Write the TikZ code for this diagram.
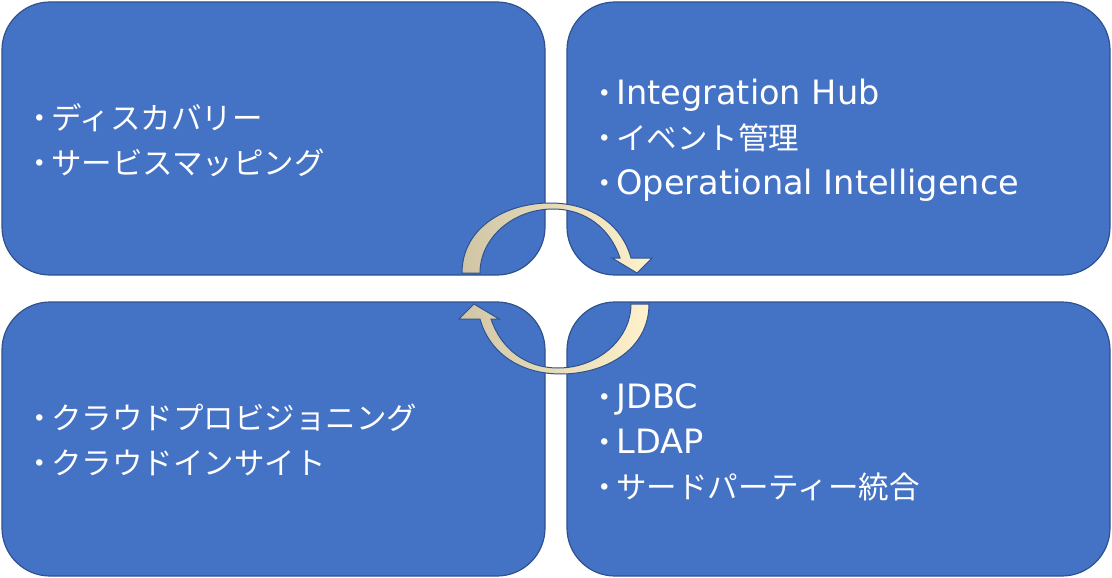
\documentclass[tikz,border=0pt]{standalone}
\usepackage{fontspec}
\setmainfont[Scale=1.1]{DejaVu Sans}
\newfontfamily\cjk{Noto Sans CJK JP}
\usetikzlibrary{positioning}
\definecolor{boxblue}{HTML}{4472C4}
\definecolor{boxline}{HTML}{2F528F}
\definecolor{arrtan}{HTML}{CFC5A5}
\definecolor{arrcream}{HTML}{FFF2CC}
\newcommand{\itm}{\hspace{-9pt}{\cjk ・}\hspace{-4pt}}
\tikzset{
  panel/.style={draw=boxline, line width=1.2pt, fill=boxblue, rounded corners=48pt},
  itemtext/.style={anchor=west, align=left, text=white, font=\fontsize{30.5}{45}\selectfont},
  curvearrow/.style={draw=boxline, line width=1pt, left color=arrtan, right color=arrcream}
}
\begin{document}
\begin{tikzpicture}[x=1pt, y=-1pt]
  \useasboundingbox (0,0) rectangle (1112,578);
  % four panels
  \draw[panel] (2,2) rectangle (545,275);
  \draw[panel] (567,2) rectangle (1110,275);
  \draw[panel] (2,302) rectangle (545,576);
  \draw[panel] (567,302) rectangle (1110,576);

  \node[itemtext] (discovery) at (30,140) {\itm{\cjk ディスカバリー}\\\itm{\cjk サービスマッピング}};
  \node[itemtext] (hub) at (595,140) {\itm Integration Hub\\\itm{\cjk イベント管理}\\\itm Operational Intelligence};
  \node[itemtext] (cloud) at (30,440) {\itm{\cjk クラウドプロビジョニング}\\\itm{\cjk クラウドインサイト}};
  \node[itemtext] (jdbc) at (595,442) {\itm JDBC\\\itm LDAP\\\itm{\cjk サードパーティー統合}};

  % curved arrows in the middle
  \path[curvearrow] (462,273) .. controls (462,228) and (505,203) .. (550,203)
    .. controls (592,203) and (622,225) .. (631,258) -- (652,258) -- (637,273)
    -- (612,258) -- (620,258) .. controls (610,228) and (585,209) .. (553,209)
    .. controls (513,209) and (480,238) .. (480,273) -- cycle;
  \begin{scope}[rotate around={180:(555.5,288.5)}]
    \path[curvearrow] (462,273) .. controls (462,228) and (505,203) .. (550,203)
      .. controls (592,203) and (622,225) .. (631,258) -- (652,258) -- (637,273)
      -- (612,258) -- (620,258) .. controls (610,228) and (585,209) .. (553,209)
      .. controls (513,209) and (480,238) .. (480,273) -- cycle;
  \end{scope}
\end{tikzpicture}
\end{document}
